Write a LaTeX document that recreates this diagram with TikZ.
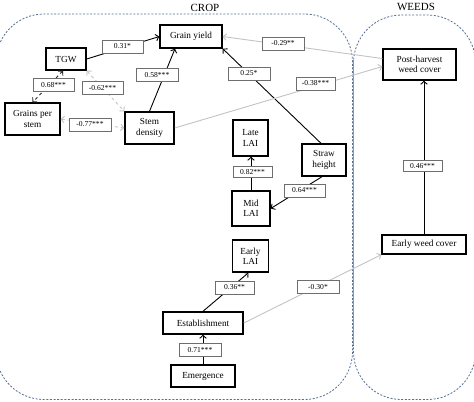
\documentclass[tikz,border=0pt]{standalone}
\usepackage{fontspec}
\setmainfont{Liberation Serif}
\usetikzlibrary{arrows.meta}
\definecolor{regioncol}{RGB}{85,110,145}
\definecolor{lightline}{RGB}{195,195,195}
\definecolor{coefborder}{RGB}{110,110,110}
\begin{document}
\begin{tikzpicture}[x=1bp,y=-1bp,
  var/.style={draw=black, line width=1.4bp, fill=white, font=\fontsize{9.3}{10.3}\selectfont, align=center, inner sep=0pt},
  coef/.style={draw=coefborder, line width=0.6bp, fill=white, font=\fontsize{7.6}{8.5}\selectfont, inner sep=0pt, minimum height=13bp},
  tip/.style={-{Straight Barb[length=3bp,width=6.5bp]}},
  blk/.style={draw=black, line width=0.9bp, tip},
  gry/.style={draw=lightline, line width=0.9bp, tip},
  dblk/.style={draw=black!85, line width=0.9bp, dashed, {Straight Barb[length=3bp,width=6.5bp]}-{Straight Barb[length=3bp,width=6.5bp]}},
  dgry/.style={draw=lightline, line width=0.9bp, dashed, {Straight Barb[length=3bp,width=6.5bp]}-{Straight Barb[length=3bp,width=6.5bp]}},
  region/.style={draw=regioncol, line width=0.8bp, dash pattern=on 2bp off 1.6bp, rounded corners=48bp},
  regionsolid/.style={draw=regioncol!70, line width=0.9bp},
  title/.style={font=\fontsize{11}{12}\selectfont, inner sep=0pt}
]
\useasboundingbox (0,0) rectangle (474,401);

% regions
\draw[region] (-4,14) rectangle (352.5,399.5);
\draw[region] (353.5,15) rectangle (475.5,399.5);
\draw[regionsolid] (353,60) -- (353,345);
\node[title] (crop) at (205,8) {CROP};
\node[title] (weeds) at (416,7) {WEEDS};

% variables
\node[var, minimum width=62bp, minimum height=23bp] (GY) at (191,36.5) {Grain yield};
\node[var, minimum width=40bp, minimum height=22bp] (TGW) at (66,59) {TGW};
\node[var, minimum width=55bp, minimum height=32bp] (GPS) at (32.5,119) {Grains per\\stem};
\node[var, minimum width=49bp, minimum height=32bp] (SD) at (149.5,128) {Stem\\density};
\node[var, minimum width=73bp, minimum height=31bp] (PH) at (419.5,64.5) {Post-harvest\\weed cover};
\node[var, minimum width=35bp, minimum height=36bp] (LL) at (250.5,138) {Late\\LAI};
\node[var, minimum width=44bp, minimum height=32bp] (SH) at (324,160) {Straw\\height};
\node[var, minimum width=38bp, minimum height=35bp] (ML) at (251,208.5) {Mid\\LAI};
\node[var, minimum width=84bp, minimum height=19bp] (EW) at (424,244.5) {Early weed cover};
\node[var, minimum width=36bp, minimum height=32bp] (EL) at (250.5,256) {Early\\LAI};
\node[var, minimum width=80bp, minimum height=22bp] (ES) at (203,323) {Establishment};
\node[var, minimum width=64bp, minimum height=22bp] (EM) at (203,376) {Emergence};

% connectors
\draw[blk] (TGW.east) -- (GY.west);
\draw[blk] (SD.north) -- ([xshift=-16bp]GY.south);
\draw[blk] ([xshift=-3bp]SH.north) -- (GY.south east);
\draw[gry] ([yshift=6bp]PH.west) -- (GY.east);
\draw[gry] (SD.east) -- ([yshift=-2bp]PH.west);
\draw[dblk] ([xshift=-3bp]TGW.south) -- (GPS.north);
\draw[dgry] (TGW.south east) -- (SD.north west);
\draw[dgry] (GPS.east) -- (SD.west);
\draw[blk] (ML.north) -- (ML.north |- LL.south);
\draw[blk] ([xshift=-2bp]SH.south) -- (ML.east);
\draw[blk] (ES.north) -- ([xshift=-2bp]EL.south);
\draw[blk] (EM.north) -- (ES.south);
\draw[blk] (EW.north) -- (EW.north |- PH.south);
\draw[gry] (ES.east) -- (EW.south west);

% coefficients
\node[coef, minimum width=41bp] (c1) at (122.5,46.5) {0.31*};
\node[coef, minimum width=41bp] (c2) at (53.5,85) {0.68***};
\node[coef, minimum width=41bp] (c3) at (102.5,88) {-0.62***};
\node[coef, minimum width=42bp] (c4) at (157,75) {0.58***};
\node[coef, minimum width=42bp] (c5) at (90,124.5) {-0.77***};
\node[coef, minimum width=42bp] (c6) at (283,43.5) {-0.29**};
\node[coef, minimum width=42bp] (c7) at (249,73.5) {0.25*};
\node[coef, minimum width=39bp] (c8) at (315.5,83.5) {-0.38***};
\node[coef, minimum width=39bp, minimum height=11bp] (c9) at (252.5,172) {0.82***};
\node[coef, minimum width=41bp] (c10) at (304.5,190.5) {0.64***};
\node[coef, minimum width=39bp, minimum height=11bp] (c11) at (422.5,166) {0.46***};
\node[coef, minimum width=39bp] (c12) at (234.5,287.5) {0.36**};
\node[coef, minimum width=42bp] (c13) at (318,287) {-0.30*};
\node[coef, minimum width=42bp] (c14) at (200,350) {0.71***};
\end{tikzpicture}
\end{document}
